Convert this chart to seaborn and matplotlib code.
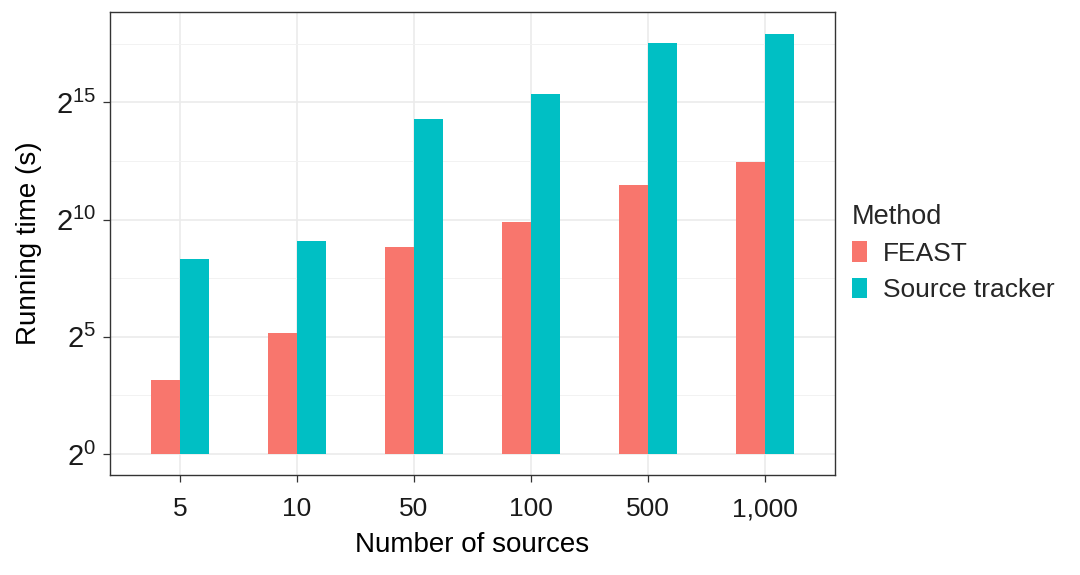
import numpy as np
import pandas as pd
import matplotlib
matplotlib.use('Agg')
import matplotlib.pyplot as plt
import seaborn as sns

# running time in seconds
sources = ['5', '10', '50', '100', '500', '1,000']
feast_time = [9.0, 36, 455, 940, 2840, 5710]
tracker_time = [317, 541, 20200, 41500, 193000, 248000]
methods = ['FEAST', 'Source tracker']
colors = ['#F8766D', '#00BFC4']
y_ticks = [0, 5, 10, 15]

df = pd.DataFrame({
    'Sources': sources * 2,
    'Method': [methods[0]] * len(sources) + [methods[1]] * len(sources),
    'Time': feast_time + tracker_time,
})
df['log2_time'] = np.log2(df['Time'])

sns.set_theme(style='white')
plt.rcParams['font.family'] = ['Liberation Sans', 'DejaVu Sans']
plt.rcParams['mathtext.default'] = 'regular'

fig = plt.figure(figsize=(10.8, 5.75), dpi=100)
ax = fig.add_axes([110 / 1080, 1 - 475 / 575, 725 / 1080, 463 / 575])

sns.barplot(data=df, x='Sources', y='log2_time', hue='Method', order=sources,
            hue_order=methods, palette=colors, width=0.5, saturation=1,
            linewidth=0, ax=ax, zorder=3)

ax.set_xlim(-0.6, len(sources) - 0.4)
ax.set_ylim(-0.9, 18.86)
ax.set_yticks(y_ticks)
ax.set_yticklabels([f'$2^{{{t}}}$' for t in y_ticks])
ax.set_yticks([2.5, 7.5, 12.5, 17.5], minor=True)

ax.grid(True, which='major', color='#EBEBEB', linewidth=1.2, zorder=0)
ax.grid(True, which='minor', axis='y', color='#F2F2F2', linewidth=0.7, zorder=0)
ax.set_axisbelow(True)
for sp in ax.spines.values():
    sp.set_color('#333333')
    sp.set_linewidth(1.0)

ax.tick_params(axis='both', which='major', length=5, width=0.9, color='#333333',
               labelcolor='#1a1a1a', pad=4, left=True, bottom=True)
ax.tick_params(axis='y', labelsize=21, pad=5)
ax.tick_params(axis='y', which='minor', length=0)
ax.tick_params(axis='x', labelsize=19, pad=11)
ax.set_xlabel('Number of sources', fontsize=20, color='black', labelpad=8)
ax.set_ylabel('Running time (s)', fontsize=20, color='black', labelpad=10)

leg = ax.legend(title='Method', loc='center left', bbox_to_anchor=(0.99, 0.48),
                frameon=False, fontsize=19, title_fontsize=19.5, handlelength=0.6,
                handleheight=0.8, handletextpad=0.6, labelspacing=0.45)
leg._legend_box.align = 'left'

fig.savefig('out.png', dpi=100)
